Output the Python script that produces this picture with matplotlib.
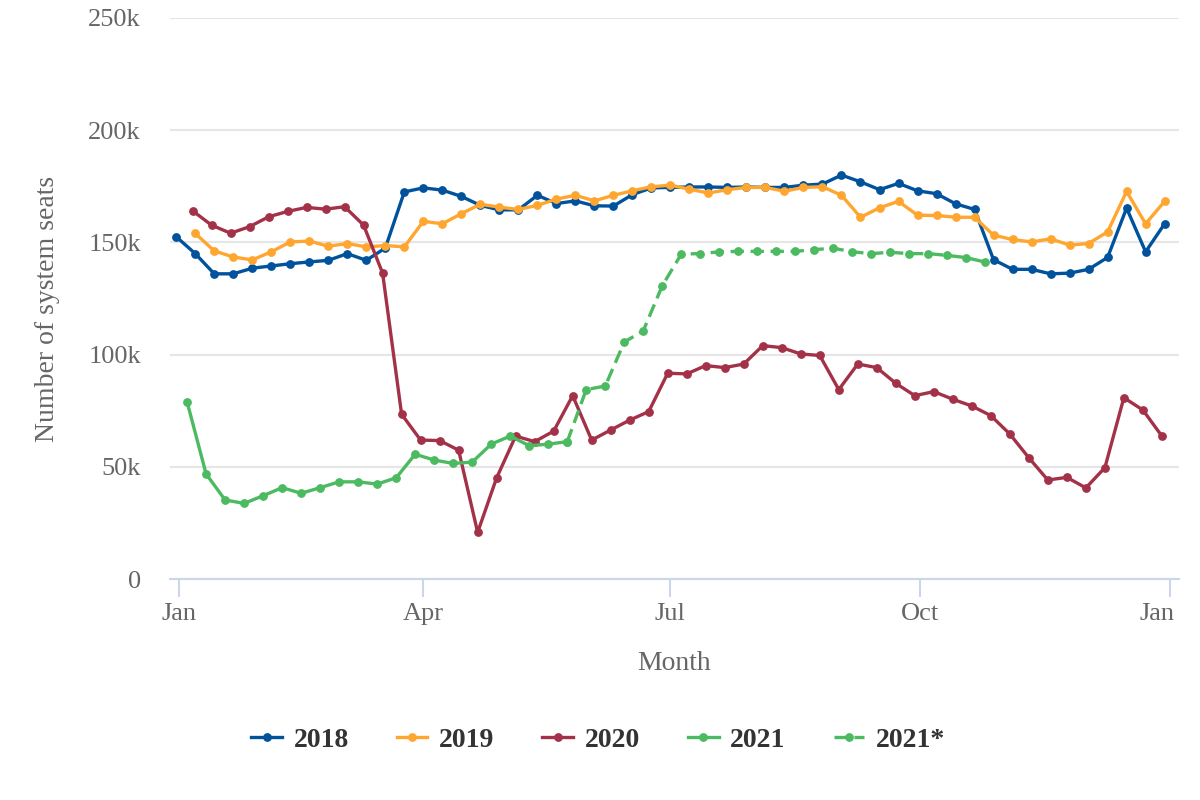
import numpy as np
import matplotlib.pyplot as plt
from matplotlib.transforms import ScaledTranslation

plt.rcParams['font.family'] = ['Liberation Serif', 'DejaVu Serif']

# weekly seat counts, in thousands; first week of each series as day of year
start_2018 = -1
start_2019 = 6
start_2020 = 5
start_2021 = 3

seats_2018 = [152.5, 145, 136, 136, 138.5, 139.5, 140.5, 141.3, 142, 145, 142, 147.5,
              172.5, 174.3, 173.3, 170.5, 166.5, 164.5, 164.5, 171, 167.3, 168.5, 166.3,
              166.2, 171.3, 174.3, 174.5, 174.7, 174.7, 174.5, 174.7, 174.5, 174.5, 175.5,
              176, 180, 177, 173.5, 176.3, 173, 171.7, 167.2, 164.7, 142.3, 138, 138, 136,
              136.3, 138, 143.3, 165.3, 145.8, 158.3]
seats_2019 = [154, 146.2, 143.5, 142.2, 145.8, 150.2, 150.6, 148.3, 149.5, 148, 148.6, 148,
              159.4, 158.3, 162.8, 167, 165.7, 164.7, 166.5, 169.3, 171, 168.5, 171, 173,
              174.8, 175.5, 173.7, 172, 173.5, 174.5, 174.5, 172.8, 174.5, 174.8, 171, 161.2,
              165.4, 168.3, 162.1, 162, 161.2, 161.2, 153.2, 151.3, 150.2, 151.6, 148.8,
              149.5, 154.7, 172.7, 158.3, 168.3]
seats_2020 = [164.1, 157.7, 154.1, 157, 161.4, 163.8, 165.6, 164.8, 165.9, 157.7, 136.3, 73.4,
              61.9, 61.7, 57.4, 20.8, 45.1, 63.7, 61.2, 65.9, 81.7, 61.9, 66.4, 70.8, 74.6,
              91.7, 91.4, 95.1, 94.2, 95.8, 104, 103.1, 100.3, 99.6, 84.4, 95.8, 94.2, 87.2,
              81.7, 83.5, 80.1, 77.1, 72.8, 64.6, 54, 44.1, 45.3, 40.6, 49.6, 80.8, 75.3, 63.7]
seats_2021 = [78.9, 46.8, 35.2, 33.7, 37.1, 40.7, 38.2, 40.7, 43.3, 43.3, 42.3, 45.1, 55.6,
              53, 51.5, 52.1, 60.1, 63.7, 59.4, 60.1, 61.2]
# 2021* continues from the last 2021 week
seats_2021_sched = [61.2, 84.4, 86, 105.6, 110.6, 130.7, 144.8, 145, 145.8, 146, 146, 146,
                    146, 146.8, 147.4, 145.8, 145, 145.6, 145, 145, 144.2, 143.2, 141.2]

month_days = [0, 90, 181, 273, 365]
month_labels = ['Jan', 'Apr', 'Jul', 'Oct', 'Jan']
y_ticks = [0, 50, 100, 150, 200, 250]


def weeks(start, vals):
    return start + 7 * np.arange(len(vals))


fig = plt.figure(figsize=(12, 8), dpi=100)
ax = fig.add_axes([170 / 1200, 1 - 579 / 800, 1009 / 1200, 561 / 800])

style = dict(lw=2.4, marker='o', ms=5.3)
ax.plot(weeks(start_2018, seats_2018), seats_2018, color='#01529c', label='2018', **style)
ax.plot(weeks(start_2019, seats_2019), seats_2019, color='#ffa630', label='2019', **style)
ax.plot(weeks(start_2020, seats_2020), seats_2020, color='#a33248', label='2020', **style)
ax.plot(weeks(start_2021, seats_2021), seats_2021, color='#4cba61', label='2021', **style)
ax.plot(weeks(start_2021 + 7 * (len(seats_2021) - 1), seats_2021_sched), seats_2021_sched,
        color='#4cba61', ls=(0, (4, 2)), label='2021*', **style)

ax.set_xlim(-3.3, 368.3)
ax.set_ylim(0, 250)
ax.set_xticks(month_days)
ax.set_xticklabels(month_labels)
ax.set_yticks(y_ticks)
ax.set_yticklabels([f'{v}k' if v else '0' for v in y_ticks])

ax.grid(axis='y', color='#e6e6e6', lw=1.5)
ax.set_axisbelow(True)
for s in ['top', 'right', 'left']:
    ax.spines[s].set_visible(False)
ax.spines['bottom'].set_color('#ccd6eb')
ax.spines['bottom'].set_linewidth(1.5)
ax.tick_params(axis='x', length=13, width=1.5, color='#ccd6eb', pad=4,
               labelsize=19, labelcolor='#666666')
ax.tick_params(axis='y', length=0, pad=21, labelsize=19, labelcolor='#666666')

# keep the last label inside the plot, like the original
last = ax.get_xticklabels()[-1]
last.set_transform(last.get_transform() + ScaledTranslation(-0.13, 0, fig.dpi_scale_trans))

ax.set_xlabel('Month', fontsize=20, color='#666666')
ax.xaxis.set_label_coords(0.5, -0.128)
ax.set_ylabel('Number of system seats', fontsize=20, color='#666666')
ax.yaxis.set_label_coords(-0.109, 0.481)

fig.legend(loc='center', bbox_to_anchor=(0.4985, 0.075), ncol=5, frameon=False,
           prop={'size': 20, 'weight': 'bold'}, labelcolor='#333333',
           handlelength=1.1, handletextpad=0.42, columnspacing=1.73)

fig.savefig('out.png', dpi=100)
